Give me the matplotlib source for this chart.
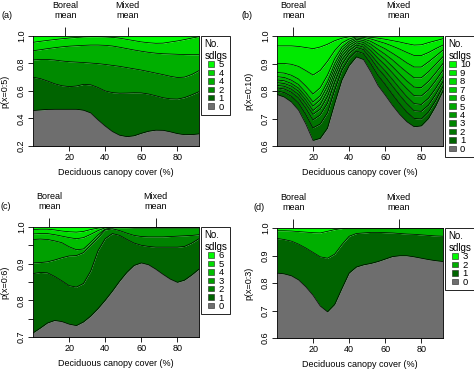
import numpy as np
import matplotlib
matplotlib.use("Agg")
import matplotlib.pyplot as plt
from matplotlib.patches import Patch

plt.rcParams['font.family'] = ['Liberation Sans', 'DejaVu Sans']

# deciduous canopy cover (%) where the curves were read
cover = [0, 4, 8, 12, 16, 20, 24, 28, 32, 36, 40, 44, 48, 52, 56, 60, 64, 68, 72, 76, 80, 84, 88, 92]

# (a) cumulative probabilities p(x<=k), k = 0..4
a0 = [0.458, 0.462, 0.466, 0.467, 0.467, 0.467, 0.467, 0.460, 0.440, 0.390, 0.345, 0.305, 0.278, 0.268, 0.274, 0.292, 0.307, 0.315, 0.314, 0.303, 0.290, 0.282, 0.283, 0.288]
a1 = [0.700, 0.690, 0.672, 0.652, 0.638, 0.632, 0.636, 0.648, 0.645, 0.625, 0.600, 0.588, 0.584, 0.585, 0.587, 0.586, 0.578, 0.565, 0.551, 0.543, 0.541, 0.552, 0.572, 0.595]
a2 = [0.826, 0.829, 0.829, 0.825, 0.818, 0.813, 0.810, 0.807, 0.803, 0.799, 0.793, 0.786, 0.779, 0.770, 0.761, 0.752, 0.741, 0.730, 0.719, 0.707, 0.698, 0.701, 0.720, 0.748]
a3 = [0.893, 0.900, 0.908, 0.915, 0.921, 0.926, 0.929, 0.932, 0.934, 0.934, 0.932, 0.927, 0.918, 0.908, 0.898, 0.889, 0.881, 0.875, 0.871, 0.869, 0.867, 0.865, 0.864, 0.864]
a4 = [0.954, 0.961, 0.968, 0.974, 0.980, 0.985, 0.989, 0.993, 0.995, 0.995, 0.993, 0.990, 0.984, 0.975, 0.966, 0.957, 0.951, 0.947, 0.948, 0.956, 0.964, 0.974, 0.985, 0.995]

# (b) k = 0..9
b0 = [0.787, 0.778, 0.760, 0.730, 0.680, 0.620, 0.628, 0.665, 0.755, 0.840, 0.892, 0.924, 0.914, 0.870, 0.820, 0.785, 0.748, 0.715, 0.688, 0.670, 0.673, 0.700, 0.745, 0.800]
b1 = [0.800, 0.794, 0.780, 0.756, 0.715, 0.666, 0.680, 0.721, 0.803, 0.876, 0.919, 0.945, 0.936, 0.900, 0.857, 0.824, 0.788, 0.754, 0.723, 0.700, 0.698, 0.724, 0.765, 0.816]
b2 = [0.811, 0.807, 0.795, 0.774, 0.738, 0.695, 0.713, 0.756, 0.832, 0.897, 0.936, 0.958, 0.950, 0.919, 0.882, 0.852, 0.818, 0.785, 0.754, 0.728, 0.726, 0.749, 0.788, 0.834]
b3 = [0.820, 0.817, 0.806, 0.787, 0.754, 0.715, 0.734, 0.780, 0.853, 0.913, 0.947, 0.967, 0.959, 0.933, 0.901, 0.873, 0.842, 0.810, 0.779, 0.754, 0.751, 0.774, 0.810, 0.852]
b4 = [0.830, 0.827, 0.817, 0.799, 0.767, 0.729, 0.751, 0.799, 0.869, 0.926, 0.957, 0.975, 0.968, 0.947, 0.919, 0.894, 0.866, 0.836, 0.808, 0.783, 0.782, 0.804, 0.838, 0.876]
b5 = [0.840, 0.837, 0.827, 0.810, 0.780, 0.745, 0.768, 0.817, 0.885, 0.937, 0.966, 0.982, 0.976, 0.959, 0.935, 0.914, 0.889, 0.862, 0.836, 0.814, 0.812, 0.835, 0.866, 0.900]
b6 = [0.852, 0.849, 0.839, 0.823, 0.794, 0.760, 0.783, 0.833, 0.899, 0.948, 0.974, 0.988, 0.983, 0.970, 0.951, 0.933, 0.913, 0.890, 0.868, 0.848, 0.848, 0.870, 0.897, 0.925]
b7 = [0.867, 0.865, 0.857, 0.843, 0.818, 0.789, 0.812, 0.858, 0.917, 0.959, 0.981, 0.993, 0.989, 0.980, 0.966, 0.953, 0.937, 0.920, 0.902, 0.887, 0.887, 0.906, 0.927, 0.949]
b8 = [0.900, 0.900, 0.897, 0.889, 0.874, 0.858, 0.875, 0.908, 0.947, 0.975, 0.989, 0.997, 0.995, 0.989, 0.981, 0.973, 0.963, 0.952, 0.940, 0.929, 0.929, 0.940, 0.954, 0.967]
b9 = [0.964, 0.964, 0.964, 0.962, 0.958, 0.954, 0.960, 0.970, 0.983, 0.992, 0.997, 0.999, 0.998, 0.995, 0.992, 0.988, 0.983, 0.978, 0.972, 0.967, 0.968, 0.976, 0.983, 0.990]

# (c) k = 0..5
c0 = [0.711, 0.724, 0.738, 0.745, 0.742, 0.735, 0.731, 0.741, 0.757, 0.777, 0.800, 0.825, 0.852, 0.876, 0.895, 0.902, 0.897, 0.885, 0.871, 0.858, 0.849, 0.855, 0.869, 0.885]
c1 = [0.873, 0.876, 0.875, 0.865, 0.853, 0.840, 0.836, 0.846, 0.880, 0.935, 0.968, 0.982, 0.977, 0.966, 0.956, 0.950, 0.947, 0.945, 0.945, 0.945, 0.945, 0.947, 0.956, 0.968]
c2 = [0.902, 0.903, 0.905, 0.910, 0.916, 0.921, 0.922, 0.930, 0.950, 0.970, 0.992, 0.995, 0.990, 0.983, 0.977, 0.974, 0.973, 0.973, 0.973, 0.974, 0.975, 0.976, 0.977, 0.979]
c3 = [0.966, 0.967, 0.966, 0.962, 0.957, 0.946, 0.938, 0.940, 0.958, 0.978, 0.994, 0.998, 0.998, 0.998, 0.997, 0.997, 0.997, 0.997, 0.997, 0.997, 0.997, 0.997, 0.997, 0.997]
c4 = [0.981, 0.982, 0.982, 0.979, 0.975, 0.971, 0.968, 0.971, 0.980, 0.990, 0.998, 0.999, 0.999, 0.999, 0.999, 0.999, 0.999, 0.999, 0.999, 0.999, 0.999, 0.999, 0.999, 0.999]
c5 = [0.993, 0.994, 0.994, 0.992, 0.989, 0.987, 0.986, 0.988, 0.993, 0.997, 0.999, 0.9995, 0.9995, 0.9995, 0.9995, 0.9995, 0.9995, 0.9995, 0.9995, 0.9995, 0.9995, 0.9995, 0.9995, 0.9995]

# (d) k = 0..2
d0 = [0.836, 0.833, 0.826, 0.811, 0.786, 0.755, 0.716, 0.695, 0.722, 0.780, 0.836, 0.858, 0.866, 0.871, 0.878, 0.887, 0.896, 0.899, 0.899, 0.895, 0.890, 0.885, 0.881, 0.878]
d1 = [0.962, 0.958, 0.952, 0.941, 0.927, 0.911, 0.895, 0.890, 0.905, 0.940, 0.970, 0.980, 0.982, 0.984, 0.984, 0.983, 0.982, 0.980, 0.978, 0.977, 0.975, 0.973, 0.971, 0.970]
d2 = [0.990, 0.990, 0.989, 0.987, 0.985, 0.983, 0.982, 0.988, 0.994, 0.998, 0.999, 0.999, 0.999, 0.999, 0.999, 0.999, 0.999, 0.999, 0.999, 0.999, 0.999, 0.999, 0.999, 0.999]

labels_a = ['5', '4', '4', '2', '1', '0']
labels_b = ['10', '9', '8', '7', '6', '5', '4', '3', '2', '1', '0']
labels_c = ['6', '5', '4', '3', '2', '1', '0']
labels_d = ['3', '2', '1', '0']

# boreal / mixed mean cover marked on top axis
means_a = [18, 52.4]
means_b = [9, 67.5]
means_c = [9, 68]
means_d = [9, 67.5]

W, H = 474, 370
fig = plt.figure(figsize=(W / 100, H / 100), dpi=100)
GRAY = '#6e6e6e'
FS = 6.5


def panel(rect, bounds, ylim, yticks, ylabs, ylab, labels, tag, tagpos, means):
    ax = fig.add_axes([rect[0] / W, 1 - rect[3] / H, (rect[2] - rect[0]) / W, (rect[3] - rect[1]) / H])
    n = len(bounds)
    greens = [(0, g / 255, 0) for g in np.linspace(100, 250, n)]
    ax.fill_between(cover, 0, bounds[0], color=GRAY, lw=0)
    for i in range(n):
        top = bounds[i + 1] if i + 1 < n else [1.0] * len(cover)
        ax.fill_between(cover, bounds[i], top, color=greens[i], lw=0)
    for b in bounds:
        ax.plot(cover, b, color='black', lw=0.5)
    ax.set_xlim(0, 92)
    ax.set_ylim(*ylim)
    ax.set_xticks([20, 40, 60, 80])
    ax.set_yticks(yticks)
    ax.set_yticklabels(ylabs, rotation=90, va='center')
    ax.tick_params(labelsize=FS, length=3.5, width=0.6, pad=1.5)
    for s in ax.spines.values():
        s.set_linewidth(0.6)
    ax.set_xlabel('Deciduous canopy cover (%)', fontsize=FS, labelpad=4.5)
    ax.set_ylabel(ylab, fontsize=FS)
    ax.yaxis.set_label_coords(-0.14, 0.5)

    sec = ax.secondary_xaxis('top')
    sec.set_xticks(means, labels=['Boreal\nmean', 'Mixed\nmean'])
    sec.tick_params(length=6.5, width=0.6, pad=5, labelsize=FS)
    sec.spines['top'].set_visible(False)

    handles = [Patch(facecolor=c, edgecolor='#222222', lw=0.4) for c in greens[::-1]]
    handles.append(Patch(facecolor=GRAY, edgecolor='#222222', lw=0.4))
    leg = ax.legend(handles, labels, title='No.\nsdlgs', loc='upper left',
                    bbox_to_anchor=(1.012, 1.0), fontsize=6.8, title_fontsize=7,
                    handlelength=0.7, handleheight=0.5, handletextpad=0.45,
                    labelspacing=-0.06, borderpad=0.35, borderaxespad=0,
                    fancybox=False, edgecolor='black', framealpha=1)
    leg.get_frame().set_linewidth(0.6)

    fig.text(tagpos[0] / W, 1 - tagpos[1] / H, tag, fontsize=FS, ha='center', va='center')
    return ax


panel((33, 36, 199, 146), [a0, a1, a2, a3, a4], (0.2, 1.0),
      [0.2, 0.4, 0.6, 0.8, 1.0], ['0.2', '0.4', '0.6', '0.8', '1.0'],
      'p(x=0:5)', labels_a, '(a)', (7, 15), means_a)
panel((277, 36, 443, 146), [b0, b1, b2, b3, b4, b5, b6, b7, b8, b9], (0.6, 1.0),
      [0.6, 0.7, 0.8, 0.9, 1.0], ['0.6', '0.7', '0.8', '0.9', '1.0'],
      'p(x=0:10)', labels_b, '(b)', (247, 15), means_b)
panel((33, 227, 199, 337), [c0, c1, c2, c3, c4, c5], (0.7, 1.0),
      [0.7, 0.75, 0.8, 0.85, 0.9, 0.95, 1.0], ['0.7', '', '0.8', '', '0.9', '', '1.0'],
      'p(x=0:6)', labels_c, '(c)', (6, 207), means_c)
panel((277, 228, 443, 338), [d0, d1, d2], (0.6, 1.0),
      [0.6, 0.7, 0.8, 0.9, 1.0], ['0.6', '0.7', '0.8', '0.9', '1.0'],
      'p(x=0:3)', labels_d, '(d)', (259, 208), means_d)

fig.savefig('out.png', dpi=100)
